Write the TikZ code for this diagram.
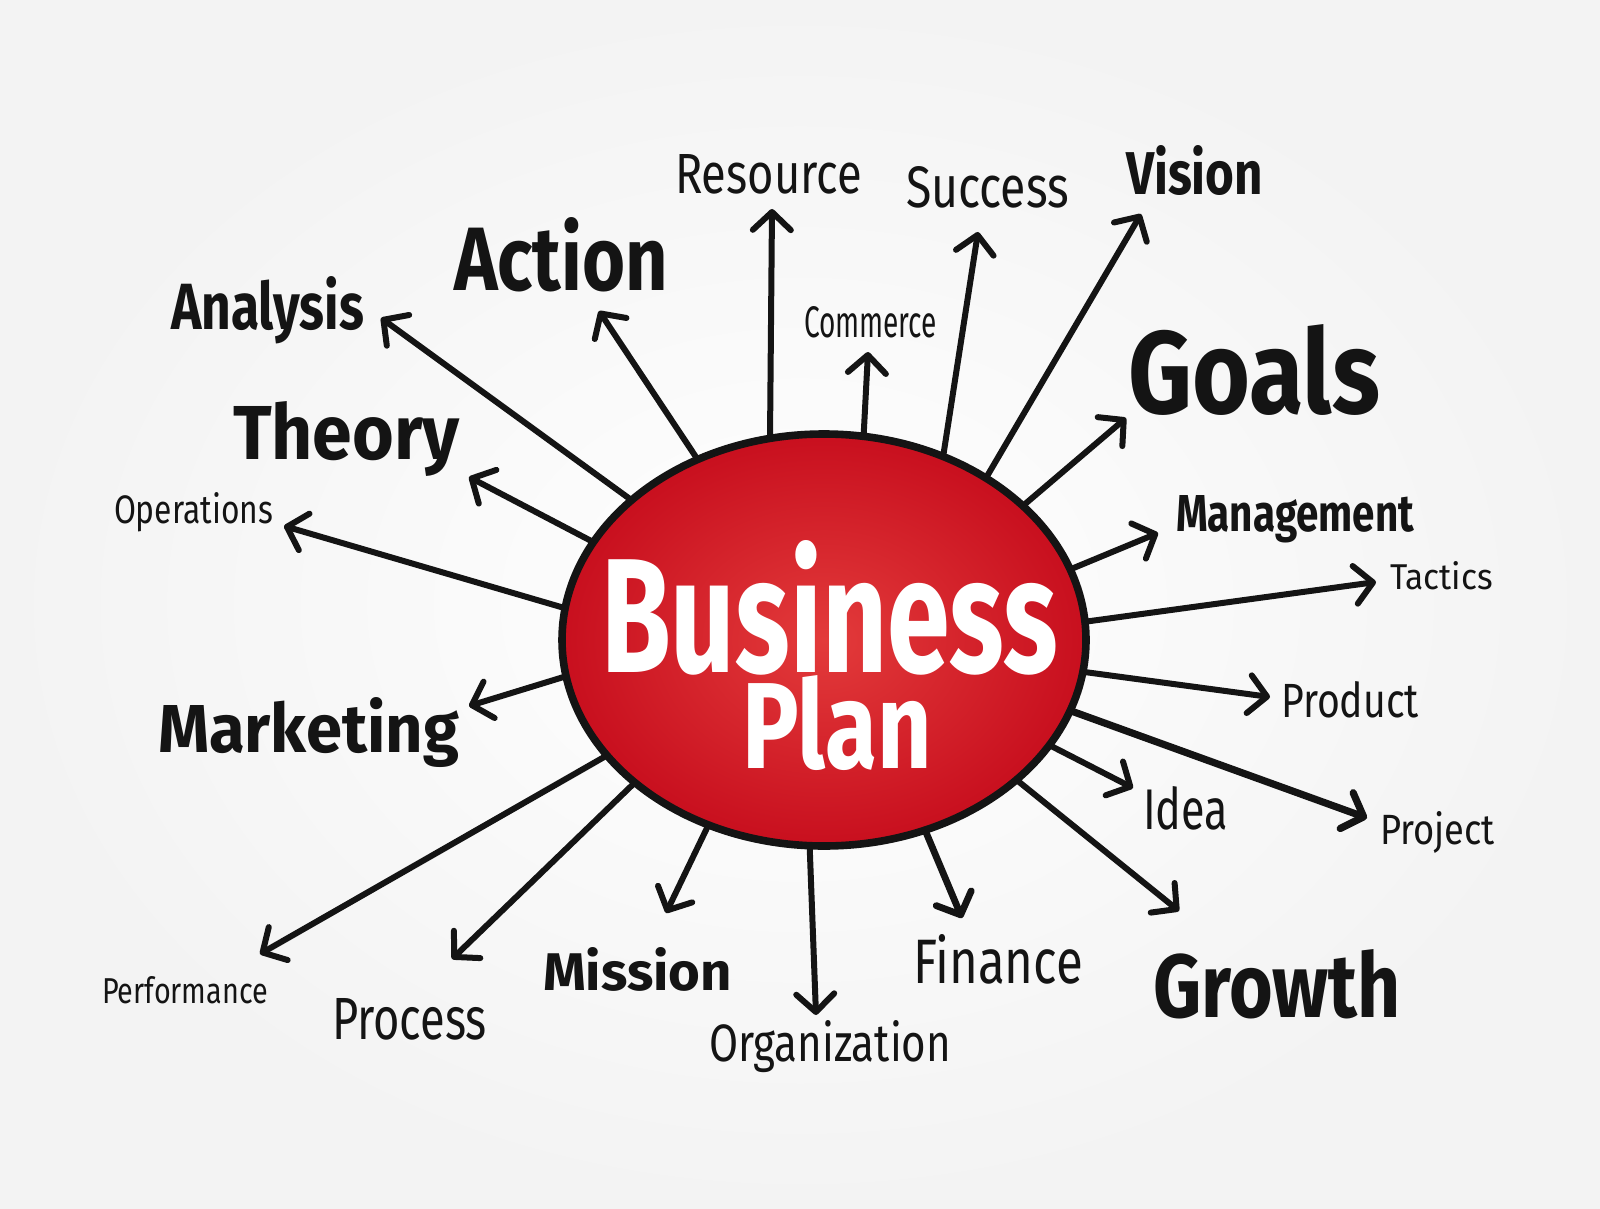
\documentclass[tikz,border=0pt]{standalone}
\usepackage{fontspec}
\setmainfont{Fira Sans}
\usepackage{graphicx}
\usetikzlibrary{arrows.meta,shapes.geometric}
\newlength\pxu \setlength\pxu{0.5pt}
\newcommand\lbl[3]{\resizebox{#1\pxu}{#2\pxu}{#3}}
\definecolor{ink}{HTML}{141414}
\definecolor{bgedge}{HTML}{F3F3F3}
\definecolor{redin}{HTML}{E33B3B}
\definecolor{redout}{HTML}{C80F1E}
\begin{document}
\begin{tikzpicture}[x=0.5pt,y=-0.5pt,
  lab/.style={anchor=base west,inner sep=0pt,outer sep=0pt,text=ink},
  arr/.style={draw=ink,line width=3pt,line cap=round,line join=round,
    -{Straight Barb[length=9pt,width=19pt,line cap=round,line join=round]}},
  hub/.style={ellipse,draw=ink,line width=3.8pt,inner sep=0pt,outer sep=0pt,
    minimum width=524\pxu,minimum height=412\pxu,inner color=redin,outer color=redout}]
\useasboundingbox (0,0) rectangle (1600,1209);
\fill[bgedge] (0,0) rectangle (1600,1209);
\fill[inner color=white,outer color=bgedge] (0,0) rectangle (1600,1209);

% hub
\node[hub] (bp) at (824,640) {};

% arrows
\foreach \n/\a/\x/\y in {
  ana/144.3/381/318, act/125.8/599/311, res/105.6/772/209, com/79/868/352,
  suc/57.9/978/232, vis/45.8/1141/214, goa/34.4/1126/418, the/157.8/469/477,
  ope/173.9/284/526, man/16.7/1158/533, tac/4.9/1376/582, pro/-7.2/1270/697,
  ide/-25.2/1133/788, gro/-36.7/1179/911, org/-94/816/1015,
  mis/-122.8/666/913, prc/-143.2/452/959, per/-152.7/260/954, mar/-172.3/469/706}
  { \coordinate (t\n) at (\x,\y); \draw[arr] (bp.\a) -- (t\n); }
\coordinate (tprj) at (1367,818);
\draw[arr,line width=3.6pt] (bp.-16) -- (tprj);
\coordinate (tfin) at (962,918);
\draw[arr,line width=3.4pt] (bp.-62.4) -- (tfin);

% hub text
\node[inner sep=0pt,outer sep=0pt,anchor=north west,text=white] (bus) at (601,540)
  {\bfseries\vbox{\offinterlineskip\hbox{\lbl{457}{132}{Business}}\kern1\pxu
   \hbox{\hskip141\pxu\lbl{190}{93}{Plan}}}};

% labels
\node[lab] (res) at (675,194) {\lbl{187}{39}{Resource}};
\node[lab] (suc) at (906,207) {\lbl{163}{41}{Success}};
\node[lab] (vis) at (1126,195) {\bfseries\lbl{137}{49}{Vision}};
\node[lab] (act) at (454,291) {\bfseries\lbl{214}{73}{Action}};
\node[lab] (ana) at (171,329) {\bfseries\lbl{193}{53}{Analysis}};
\node[lab] (com) at (804,337) {\lbl{133}{31}{Commerce}};
\node[lab] (goa) at (1128,413) {\bfseries\lbl{252}{89}{Goals}};
\node[lab] (the) at (233,459) {\bfseries\lbl{227}{58}{Theory}};
\node[lab] (ope) at (114,523) {\lbl{159}{31}{Operations}};
\node[lab] (man) at (1176,531) {\bfseries\lbl{238}{36}{Management}};
\node[lab] (tac) at (1390,589) {\lbl{103}{28}{Tactics}};
\node[lab] (mar) at (158,752) {\bfseries\lbl{301}{55}{Marketing}};
\node[lab] (pro) at (1281,717) {\lbl{138}{36}{Product}};
\node[lab] (ide) at (1143,829) {\lbl{85}{43}{Idea}};
\node[lab] (prj) at (1380,844) {\lbl{115}{33}{Project}};
\node[lab] (per) at (102,1003) {\lbl{166}{27}{Performance}};
\node[lab] (prc) at (332,1039) {\lbl{155}{41}{Process}};
\node[lab] (mis) at (543,990) {\bfseries\lbl{189}{43}{Mission}};
\node[lab] (org) at (709,1061) {\lbl{242}{41}{Organization}};
\node[lab] (fin) at (913,983) {\lbl{170}{49}{Finance}};
\node[lab] (gro) at (1153,1017) {\bfseries\lbl{248}{68}{Growth}};
\end{tikzpicture}
\end{document}
